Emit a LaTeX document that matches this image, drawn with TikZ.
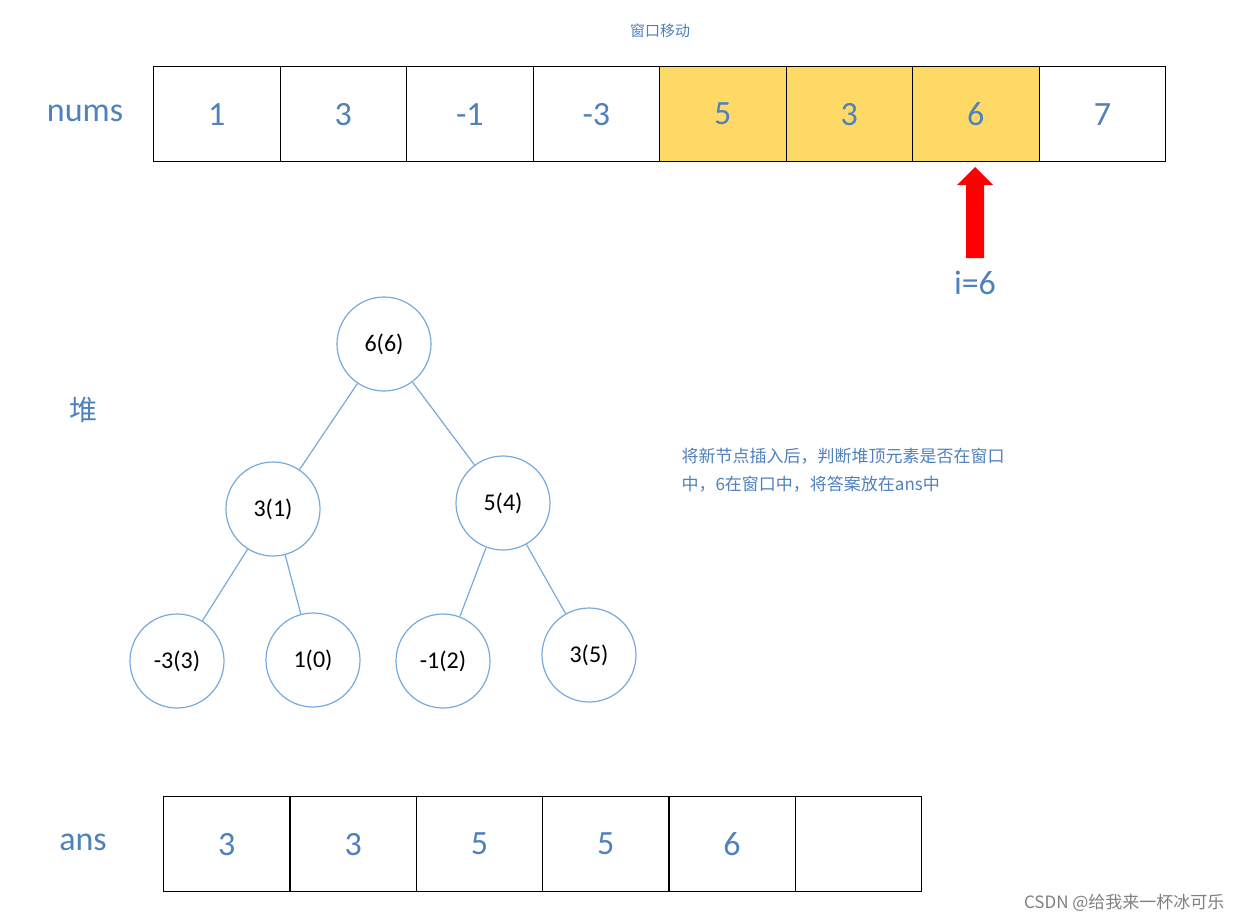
\documentclass[tikz,border=0pt]{standalone}
\usepackage{fontspec}
\setmainfont{Carlito}
\newfontfamily\cjk{Noto Sans CJK SC}
\begin{document}
\begin{tikzpicture}[x=1pt,y=-1pt,
  cell/.style={draw=black,line width=1.2pt,minimum width=126.5pt,minimum height=95pt,inner sep=0pt,text=numblue,font=\fontsize{34}{34}\selectfont,anchor=north west},
  hnode/.style={circle,draw=edgeblue,line width=1.2pt,fill=white,minimum size=94pt,inner sep=0pt,font=\fontsize{24}{24}\selectfont},
  hedge/.style={draw=edgeblue,line width=1.2pt},
  lbl/.style={text=numblue,font=\fontsize{34}{34}\selectfont}]
\definecolor{numblue}{RGB}{79,129,189}
\definecolor{edgeblue}{RGB}{120,170,220}
\definecolor{ylw}{RGB}{255,217,102}
\useasboundingbox (0,0) rectangle (1241,922);
\fill[white] (0,0) rectangle (1241,922);
\node[text=numblue,font=\cjk\fontsize{15}{15}\selectfont] (title) at (660,31) {窗口移动};
\node[lbl] (numsl) at (85,113) {nums};
\foreach \v [count=\i from 0] in {1,3,-1,-3,5,3,6,7}{
  \ifnum\i>3 \ifnum\i<7
    \node[cell,fill=ylw] (n\i) at (153+126.5*\i,66) {\v};
  \else \node[cell] (n\i) at (153+126.5*\i,66) {\v}; \fi
  \else \node[cell] (n\i) at (153+126.5*\i,66) {\v}; \fi
}
\fill[red] (975,167) -- (993,185) -- (984,185) -- (984,258) -- (966,258) -- (966,185) -- (957,185) -- cycle;
\node[lbl] (iv) at (975,283) {i=6};
\node[text=numblue,font=\cjk\fontsize{28}{28}\selectfont] (dui) at (83,410) {堆};
\node[hnode] (a) at (384,344) {6(6)};
\node[hnode] (b) at (273,509) {3(1)};
\node[hnode] (c) at (503,503) {5(4)};
\node[hnode] (d) at (177,661) {-3(3)};
\node[hnode] (e) at (313,660) {1(0)};
\node[hnode] (f) at (443,661) {-1(2)};
\node[hnode] (g) at (589,655) {3(5)};
\draw[hedge] (a)--(b); \draw[hedge] (a)--(c);
\draw[hedge] (b)--(d); \draw[hedge] (b)--(e);
\draw[hedge] (c)--(f); \draw[hedge] (c)--(g);
\node[text=numblue,font=\cjk\fontsize{17}{28}\selectfont,align=left,anchor=west] (desc) at (678,470) {将新节点插入后，判断堆顶元素是否在窗口\\中，6在窗口中，将答案放在ans中};
\node[lbl] (ansl) at (83,842) {ans};
\foreach \v [count=\i from 0] in {3,3,5,5,6,{}}{
  \node[cell] (s\i) at (163+126.3*\i,796) {\v};
}
\node[text=gray,font=\cjk\fontsize{17}{17}\selectfont,anchor=east] (wm) at (1228,903) {CSDN @给我来一杯冰可乐};
\end{tikzpicture}
\end{document}
